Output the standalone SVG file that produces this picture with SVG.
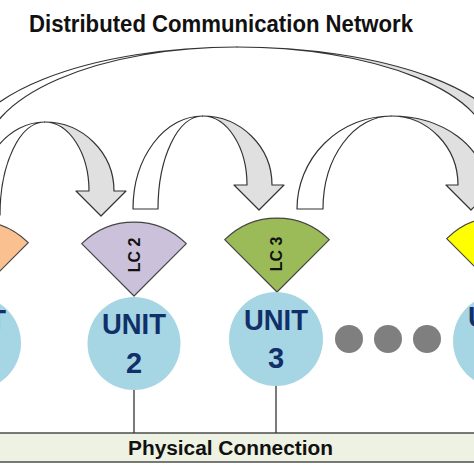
<svg xmlns="http://www.w3.org/2000/svg" width="474" height="474" viewBox="0 0 474 474">
<style>
.t{font-family:"Liberation Sans",Arial,sans-serif;font-weight:bold}
.ar{stroke:#333;stroke-width:1.2;stroke-linejoin:round}
.w{fill:#ffffff}
.g{fill:#e0e0e0}
.fan{stroke:#444;stroke-width:1.2;stroke-linejoin:round}
.unit{fill:#a6d5e3}
.ut{fill:#112f68;font-size:29px;text-anchor:middle}
.lc{fill:#111;font-size:16px;text-anchor:middle}
.dot{fill:#7f7f7f}
.ln{stroke:#333;stroke-width:1.3}
</style>
<rect width="474" height="474" fill="#ffffff"/>
<text class="t" x="29" y="32" font-size="23" fill="#111" textLength="384" lengthAdjust="spacingAndGlyphs">Distributed Communication Network</text>
<g id="connectors">
  <g id="big-arc">
    <path class="ar w" d="M -37 157 A 274 110 0 0 1 237 47 A 253 110 0 0 0 -16 157 Z"/>
    <path class="ar g" d="M 237 47 A 274 103 0 0 1 511 150 L 490 150 A 253 103 0 0 0 237 47 Z"/>
  </g>
  <g id="arrow-1-2">
    <path class="ar w" d="M -25 215 A 69.5 93 0 0 1 44.5 122 A 44.5 93 0 0 0 0 215 Z"/>
    <path class="ar g" d="M 44.5 122 A 69.5 69 0 0 1 114 191 L 126 191 L 101 216 L 76 191 L 89 191 A 44.5 69 0 0 0 44.5 122 Z"/>
  </g>
  <g id="arrow-2-3">
    <path class="ar w" d="M 133 209 A 69.5 93 0 0 1 202.5 116 A 44.5 93 0 0 0 158 209 Z"/>
    <path class="ar g" d="M 202.5 116 A 69.5 69 0 0 1 272 185 L 284 185 L 259 210 L 234 185 L 247 185 A 44.5 69 0 0 0 202.5 116 Z"/>
  </g>
  <g id="arrow-3-4">
    <path class="ar w" d="M 297 209 A 94 93 0 0 1 391 116 A 68 93 0 0 0 323 209 Z"/>
    <path class="ar g" d="M 391 116 A 94 69 0 0 1 485 185 L 496 185 L 471 210 L 446 185 L 458 185 A 67 69 0 0 0 391 116 Z"/>
  </g>
  <line class="ln" x1="134" y1="389" x2="134" y2="433"/>
  <line class="ln" x1="276" y1="385" x2="276" y2="433"/>
</g>
<g id="lc1"><path class="fan" fill="#fac090" d="M -24 295 L -76.3 242.7 A 74 74 0 0 1 28.3 242.7 Z"/></g>
<g id="lc2"><path class="fan" fill="#ccc1da" d="M 134 296 L 81.7 243.7 A 74 74 0 0 1 186.3 243.7 Z"/>
  <text class="t lc" transform="translate(140,255) rotate(-90)">LC 2</text></g>
<g id="lc3"><path class="fan" fill="#9bbb59" d="M 277 292 L 224.7 239.7 A 74 74 0 0 1 329.3 239.7 Z"/>
  <text class="t lc" transform="translate(282,254) rotate(-90)">LC 3</text></g>
<g id="lc4"><path class="fan" fill="#ffff00" d="M 499 291 L 446.7 238.7 A 74 74 0 0 1 551.3 238.7 Z"/></g>
<g id="unit1"><circle class="unit" cx="-26" cy="343" r="47"/>
  <text class="t ut" x="-26" y="330" textLength="64" lengthAdjust="spacingAndGlyphs">UNIT</text></g>
<g id="unit2"><circle class="unit" cx="134" cy="343.5" r="46.5"/>
  <text class="t ut" x="134" y="334" textLength="64" lengthAdjust="spacingAndGlyphs">UNIT</text>
  <text class="t ut" x="134" y="372.5">2</text></g>
<g id="unit3"><circle class="unit" cx="276" cy="339" r="47"/>
  <text class="t ut" x="276" y="330" textLength="64" lengthAdjust="spacingAndGlyphs">UNIT</text>
  <text class="t ut" x="276" y="367.5">3</text></g>
<g id="dots">
  <circle class="dot" cx="349" cy="339" r="14"/>
  <circle class="dot" cx="388" cy="339" r="14"/>
  <circle class="dot" cx="427" cy="339" r="14"/>
</g>
<g id="unit4"><circle class="unit" cx="500" cy="341" r="47"/>
  <text class="t ut" x="500" y="327" textLength="64" lengthAdjust="spacingAndGlyphs">UNIT</text></g>
<g id="physical">
  <rect x="-2" y="433" width="478" height="29" fill="#edf2e2" stroke="#333" stroke-width="1.3"/>
  <text class="t" x="230.5" y="455" font-size="20" fill="#111" text-anchor="middle" textLength="205" lengthAdjust="spacingAndGlyphs">Physical Connection</text>
</g>
</svg>
